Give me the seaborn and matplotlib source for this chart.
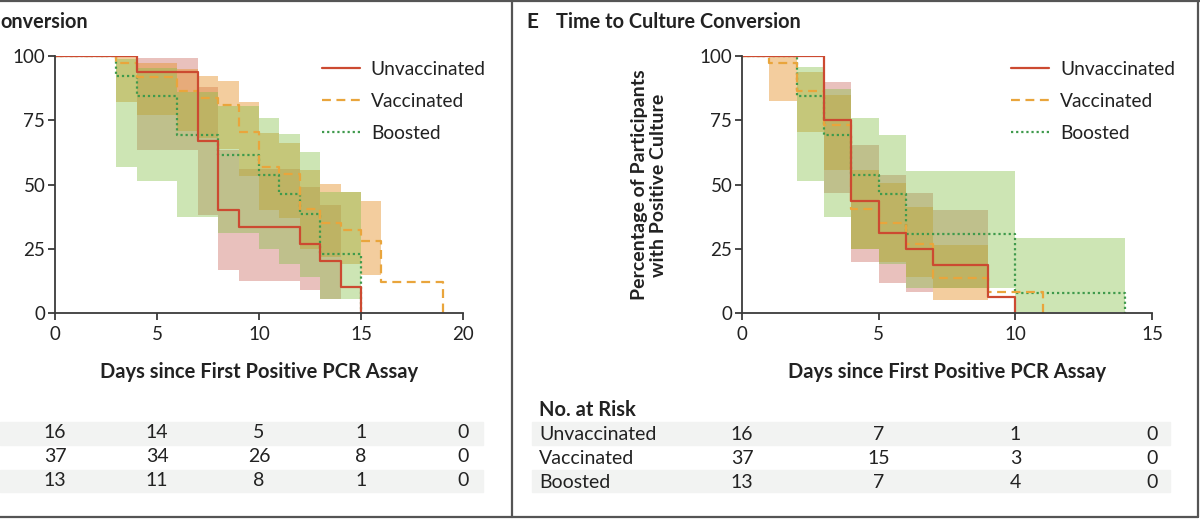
import numpy as np
import seaborn as sns
import matplotlib.pyplot as plt
from matplotlib.patches import Rectangle
from matplotlib.lines import Line2D
import matplotlib.transforms as mtransforms

# ---- panel D (left, cut off): time to PCR conversion ----
pcr_unvax_t = [0, 4, 7, 8, 9, 12, 13, 14, 15]
pcr_unvax_s = [100, 93.8, 67.0, 40.2, 33.5, 26.8, 20.1, 10.0, 0]
pcr_unvax_lo = [100, 63.4, 38.0, 16.7, 12.4, 9.0, 5.3, 10.0, 0]
pcr_unvax_hi = [100, 99.1, 88.0, 63.4, 56.0, 49.0, 42.0, 10.0, 0]

pcr_vax_t = [0, 3, 4, 6, 7, 8, 9, 10, 11, 12, 13, 14, 15, 16, 19]
pcr_vax_s = [100, 97.3, 91.9, 86.5, 83.8, 81.1, 70.3, 56.8, 54.1, 40.5, 35.1, 32.4, 28.1, 12.2, 0]
pcr_vax_lo = [100, 82.2, 77.0, 71.0, 68.0, 64.0, 53.5, 40.0, 37.0, 25.0, 21.9, 19.0, 14.8, 12.2, 0]
pcr_vax_hi = [100, 99.5, 97.1, 95.0, 92.2, 90.4, 82.2, 70.0, 66.0, 55.6, 50.2, 47.2, 43.7, 12.2, 0]

pcr_boost_t = [0, 3, 4, 6, 8, 10, 11, 12, 13, 15]
pcr_boost_s = [100, 92.3, 84.6, 69.2, 61.5, 53.8, 46.2, 38.5, 23.1, 0]
pcr_boost_lo = [100, 56.7, 51.4, 37.5, 31.0, 25.0, 19.0, 14.0, 5.6, 0]
pcr_boost_hi = [100, 99.0, 95.5, 86.0, 80.5, 75.8, 69.6, 62.8, 47.2, 0]

pcr_risk_days = [0, 5, 10, 15, 20]
pcr_risk_unvax = [16, 14, 5, 1, 0]
pcr_risk_vax = [37, 34, 26, 8, 0]
pcr_risk_boost = [13, 11, 8, 1, 0]

# ---- panel E (right): time to culture conversion ----
cul_unvax_t = [0, 3, 4, 5, 6, 7, 9, 10]
cul_unvax_s = [100, 75.0, 43.75, 31.25, 25.0, 18.75, 6.25, 0]
cul_unvax_lo = [100, 46.7, 20.0, 11.5, 8.3, 9.6, 6.25, 0]
cul_unvax_hi = [100, 89.8, 65.4, 53.7, 46.8, 40.0, 6.25, 0]

cul_vax_t = [0, 1, 2, 3, 4, 5, 6, 7, 9, 11]
cul_vax_s = [100, 97.3, 86.5, 73.0, 40.5, 35.1, 27.0, 13.5, 8.1, 0]
cul_vax_lo = [100, 82.5, 70.5, 55.6, 25.0, 20.0, 14.0, 5.0, 8.1, 0]
cul_vax_hi = [100, 100, 93.9, 84.8, 55.6, 50.4, 41.4, 26.5, 8.1, 0]

cul_boost_t = [0, 2, 3, 4, 5, 6, 10, 14]
cul_boost_s = [100, 84.6, 69.2, 53.8, 46.2, 30.8, 7.7, 0]
cul_boost_lo = [100, 51.4, 37.5, 25.0, 19.0, 9.6, 0.5, 0]
cul_boost_hi = [100, 95.8, 87.0, 75.8, 69.3, 55.4, 29.0, 0]

cul_risk_days = [0, 5, 10, 15]
cul_risk_unvax = [16, 7, 1, 0]
cul_risk_vax = [37, 15, 3, 0]
cul_risk_boost = [13, 7, 4, 0]

groups = ["Unvaccinated", "Vaccinated", "Boosted"]

# colours
line_col = {"Unvaccinated": "#cc4a31", "Vaccinated": "#e9a53c", "Boosted": "#3f9a4c"}
band_col = {"Unvaccinated": "#c65d53", "Vaccinated": "#e59129", "Boosted": "#82c044"}
band_alpha = {"Unvaccinated": 0.38, "Vaccinated": 0.45, "Boosted": 0.4}
line_style = {"Unvaccinated": "-", "Vaccinated": (0, (4, 2.5)), "Boosted": (0, (1, 1.3))}

sns.set_style("ticks")
plt.rcParams["font.family"] = ["Lato", "DejaVu Sans"]
plt.rcParams["text.color"] = "#222222"

W, H = 1200, 521
fig = plt.figure(figsize=(W / 100, H / 100), dpi=100)


def fx(px):
    return px / W


def fy(py):
    return 1 - py / H


def km_panel(ax, series, xmax, xticks):
    # bands: red underneath, green on top (gives the olive overlaps)
    for name in ["Unvaccinated", "Vaccinated", "Boosted"]:
        t, s, lo, hi = series[name]
        ax.fill_between(t, lo, hi, step="post", color=band_col[name],
                        alpha=band_alpha[name], linewidth=0)
    for name in ["Boosted", "Vaccinated", "Unvaccinated"]:
        t, s, lo, hi = series[name]
        sns.lineplot(x=t, y=s, ax=ax, drawstyle="steps-post", color=line_col[name],
                     linestyle=line_style[name], linewidth=1.6, label=name, legend=False)
    ax.set_xlim(0, xmax)
    ax.set_ylim(0, 100)
    ax.set_xticks(xticks)
    ax.set_yticks([0, 25, 50, 75, 100])
    ax.set_xlabel("")
    ax.set_ylabel("")
    sns.despine(ax=ax)
    for sp in ["left", "bottom"]:
        ax.spines[sp].set_color("#3a3a3a")
        ax.spines[sp].set_linewidth(1.3)
        ax.spines[sp].set_clip_on(False)
    ax.tick_params(axis="both", direction="out", length=5, width=1.3, color="#3a3a3a",
                   labelsize=13.5, labelcolor="#222222")
    ax.tick_params(axis="x", pad=4)
    ax.tick_params(axis="y", pad=2)
    handles = [Line2D([], [], color=line_col[g], linestyle=line_style[g], linewidth=1.6)
               for g in groups]
    return handles


def risk_table(ax, days, rows, ys):
    tr = mtransforms.blended_transform_factory(ax.transData, fig.transFigure)
    for vals, y in zip(rows, ys):
        for d, v in zip(days, vals):
            ax.text(d, fy(y), str(v), transform=tr, ha="center", va="center",
                    fontsize=14, color="#222222", clip_on=False)


# grey banding of the at-risk tables
for (x0, x1) in [(0, 483), (532, 1170)]:
    for (y0, y1) in [(422, 445), (470, 492)]:
        fig.patches.append(Rectangle((fx(x0), fy(y1)), fx(x1) - fx(x0), fy(y0) - fy(y1),
                                     transform=fig.transFigure, color="#f2f3f2",
                                     zorder=-5))

leg_kw = dict(loc="upper left", bbox_transform=fig.transFigure, frameon=False,
              fontsize=13.8, handlelength=2.0, handletextpad=0.55, labelspacing=0.78,
              borderpad=0, borderaxespad=0)

# left panel
axL = fig.add_axes([fx(55), fy(313), fx(463) - fx(55), fy(56) - fy(313)])
hL = km_panel(axL, {
    "Unvaccinated": (pcr_unvax_t, pcr_unvax_s, pcr_unvax_lo, pcr_unvax_hi),
    "Vaccinated": (pcr_vax_t, pcr_vax_s, pcr_vax_lo, pcr_vax_hi),
    "Boosted": (pcr_boost_t, pcr_boost_s, pcr_boost_lo, pcr_boost_hi),
}, 20, [0, 5, 10, 15, 20])
axL.legend(hL, groups, bbox_to_anchor=(fx(322), fy(61)), **leg_kw)
axL.text(0.5, fy(372), "Days since First Positive PCR Assay",
         transform=mtransforms.blended_transform_factory(axL.transAxes, fig.transFigure),
         ha="center", va="center", fontsize=14.5, fontweight="bold")
risk_table(axL, pcr_risk_days, [pcr_risk_unvax, pcr_risk_vax, pcr_risk_boost], [433, 457, 481])

# right panel
axR = fig.add_axes([fx(742), fy(313), fx(1152) - fx(742), fy(56) - fy(313)])
hR = km_panel(axR, {
    "Unvaccinated": (cul_unvax_t, cul_unvax_s, cul_unvax_lo, cul_unvax_hi),
    "Vaccinated": (cul_vax_t, cul_vax_s, cul_vax_lo, cul_vax_hi),
    "Boosted": (cul_boost_t, cul_boost_s, cul_boost_lo, cul_boost_hi),
}, 15, [0, 5, 10, 15])
axR.legend(hR, groups, bbox_to_anchor=(fx(1011), fy(61)), **leg_kw)
axR.text(0.5, fy(372), "Days since First Positive PCR Assay",
         transform=mtransforms.blended_transform_factory(axR.transAxes, fig.transFigure),
         ha="center", va="center", fontsize=14.5, fontweight="bold")
fig.text(fx(649), fy(185), "Percentage of Participants\nwith Positive Culture",
         rotation=90, ha="center", va="center", fontsize=14, fontweight="bold",
         linespacing=1.1)
risk_table(axR, cul_risk_days, [cul_risk_unvax, cul_risk_vax, cul_risk_boost], [434, 458, 482])
fig.text(fx(539), fy(410), "No. at Risk", ha="left", va="center", fontsize=14.5, fontweight="bold")
for g, y in zip(groups, [434, 458, 482]):
    fig.text(fx(539), fy(y), g, ha="left", va="center", fontsize=14)

# titles
fig.text(fx(0), fy(22), "onversion", ha="left", va="center", fontsize=14.3, fontweight="bold")
fig.text(fx(526), fy(22), "E", ha="left", va="center", fontsize=15, fontweight="bold")
fig.text(fx(556), fy(22), "Time to Culture Conversion", ha="left", va="center",
         fontsize=14.3, fontweight="bold")

# panel frame lines
frame = dict(color="#555555", linewidth=1.6, transform=fig.transFigure)
fig.add_artist(Line2D([fx(512), fx(512)], [fy(0), fy(517)], **frame))
fig.add_artist(Line2D([0, fx(1198)], [fy(517), fy(517)], **frame))
fig.add_artist(Line2D([fx(1198), fx(1198)], [fy(0), fy(517)], **frame))
fig.add_artist(Line2D([0, 1], [fy(0.5), fy(0.5)], **frame))

fig.savefig("out.png", dpi=100)
